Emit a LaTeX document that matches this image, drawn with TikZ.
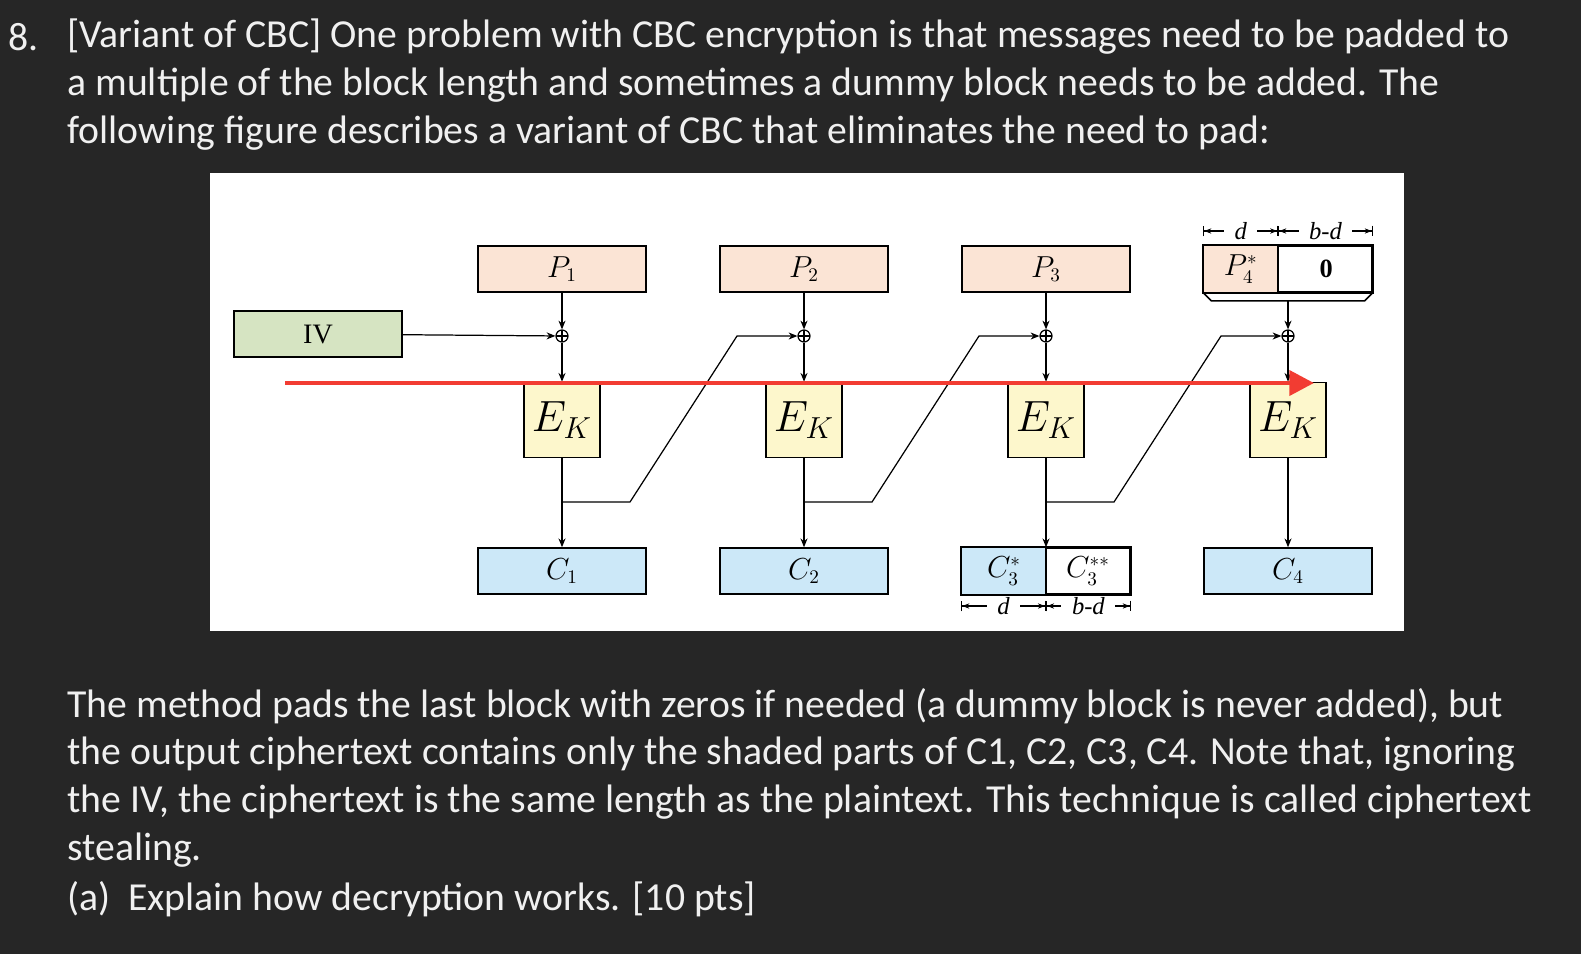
\documentclass[tikz,border=0pt]{standalone}
\usepackage{fontspec}
\setmainfont{Carlito}
\newfontfamily\serifx{Liberation Serif}
\usetikzlibrary{arrows.meta}
\definecolor{bg}{HTML}{262626}
\definecolor{pfill}{HTML}{FBE4D5}
\definecolor{cfill}{HTML}{CCE8F8}
\definecolor{efill}{HTML}{FDF7CC}
\definecolor{ivfill}{HTML}{D6E4C2}
\definecolor{redx}{HTML}{F23C32}
\begin{document}
\begin{tikzpicture}[x=0.02cm,y=-0.02cm,
  txt/.style={anchor=west,text=white!94!black,font=\fontsize{22.6}{26}\selectfont,inner sep=0},
  blk/.style={draw,line width=0.9pt,minimum width=3.36cm,minimum height=0.92cm,inner sep=0,font=\serifx\fontsize{16}{18}\selectfont},
  ek/.style={draw,line width=0.9pt,fill=efill,minimum width=1.52cm,minimum height=1.5cm,inner sep=0,font=\serifx\fontsize{24}{26}\selectfont},
  xo/.style={circle,draw,line width=0.7pt,minimum size=0.24cm,inner sep=0,path picture={\draw[line width=0.6pt] (path picture bounding box.north)--(path picture bounding box.south) (path picture bounding box.west)--(path picture bounding box.east);}},
  ar/.style={-{Stealth[length=5pt,width=4pt]},line width=0.7pt},
  ln/.style={line width=0.6pt},
  dm/.style={ln,{Bar[width=6pt]Stealth[length=4pt,width=3pt]}-{Stealth[length=4pt,width=3pt]Bar[width=6pt]}},
  dim/.style={font=\serifx\itshape\fontsize{14}{16}\selectfont,inner sep=0,fill=white,inner xsep=6pt}]
\fill[bg] (0,0) rectangle (1581,954);
\useasboundingbox (0,0) rectangle (1581,954);
\node[txt] (n8) at (8,37) {8.};
\node[txt] (l1) at (67,37) {[Variant of CBC] One problem with CBC encryption is that messages need to be padded to};
\node[txt] (l2) at (67,85) {a multiple of the block length and sometimes a dummy block needs to be added. The};
\node[txt] (l3) at (67,133) {following figure describes a variant of CBC that eliminates the need to pad:};
\fill[white] (210,173) rectangle (1404,631);
% top blocks
\node[blk,fill=pfill] (p1) at (562,269) {$P_1$};
\node[blk,fill=pfill] (p2) at (804,269) {$P_2$};
\node[blk,fill=pfill] (p3) at (1046,269) {$P_3$};
\node[blk] (p4) at (1288,269) {};
\fill[pfill] (p4.north west) rectangle ([xshift=1.5cm]p4.south west);
\draw[line width=0.9pt] ([xshift=1.5cm]p4.north west)--([xshift=1.5cm]p4.south west);
\draw[line width=0.9pt] (p4.north west) rectangle (p4.south east);
\node[font=\serifx\fontsize{16}{18}\selectfont] (p4s) at ([xshift=0.75cm]p4.west) {$P_4^*$};
\node[font=\serifx\bfseries\fontsize{15}{18}\selectfont] (z) at ([xshift=-0.93cm]p4.east) {0};
\draw[line width=0.9pt] (p4.south west)--([xshift=0.16cm,yshift=-0.16cm]p4.south west)--([xshift=-0.16cm,yshift=-0.16cm]p4.south east)--(p4.south east);
\coordinate (p4b) at ([yshift=-0.16cm]p4.south);
\node[blk,fill=ivfill] (iv) at (318,334) {IV};
\foreach \i/\x in {1/562,2/804,3/1046,4/1288}{
  \node[xo] (x\i) at (\x,336) {};
  \node[ek] (e\i) at (\x,420) {$E_K$};
  \coordinate (b\i) at (\x,502);
}
\node[blk,fill=cfill] (c1) at (562,571) {$C_1$};
\node[blk,fill=cfill] (c2) at (804,571) {$C_2$};
\node[blk] (c3) at (1046,571) {};
\node[blk,fill=cfill] (c4) at (1288,571) {$C_4$};
\fill[cfill] (c3.north west) rectangle (c3.south);
\draw[line width=0.9pt] (c3.north)--(c3.south);
\draw[line width=0.9pt] (c3.north west) rectangle (c3.south east);
\node[font=\serifx\fontsize{16}{18}\selectfont] (c3a) at ([xshift=-0.84cm]c3.center) {$C_3^*$};
\node[font=\serifx\fontsize{16}{18}\selectfont] (c3b) at ([xshift=0.84cm]c3.center) {$C_3^{**}$};
% connectors
\draw[ar] (p1)--(x1); \draw[ar] (p2)--(x2); \draw[ar] (p3)--(x3); \draw[ar] (p4b)--(x4);
\draw[ar] (iv)--(x1);
\foreach \i in {1,2,3,4}{ \draw[ar] (x\i)--(e\i.north); }
\draw[ar] (e1)--(c1); \draw[ar] (e2)--(c2); \draw[ar] (e3)--(c3.north); \draw[ar] (e4)--(c4);
\draw[ar] (b1)--++(68,0)--(737,336)--(x2);
\draw[ar] (b2)--++(68,0)--(979,336)--(x3);
\draw[ar] (b3)--++(68,0)--(1221,336)--(x4);
% dims
\draw[dm] (p4.west|-0,231)--node[dim]{d}([xshift=1.5cm]p4.west|-0,231);
\draw[dm] ([xshift=1.5cm]p4.west|-0,231)--node[dim]{b-d}(p4.east|-0,231);
\draw[dm] (c3.west|-0,606)--node[dim]{d}(c3.center|-0,606);
\draw[dm] (c3.center|-0,606)--node[dim]{b-d}(c3.east|-0,606);
% red arrow
\coordinate (rs) at (285,383);
\coordinate (re) at (1314,383);
\draw[redx,line width=2.8pt,-{Triangle[length=14pt,width=14pt]}] (rs)--(re);
% bottom text
\node[txt] (m1) at (67,706) {The method pads the last block with zeros if needed (a dummy block is never added), but};
\node[txt] (m2) at (67,754) {the output ciphertext contains only the shaded parts of C1, C2, C3, C4. Note that, ignoring};
\node[txt] (m3) at (67,802) {the IV, the ciphertext is the same length as the plaintext. This technique is called ciphertext};
\node[txt] (m4) at (67,850) {stealing.};
\node[txt] (m5) at (67,899) {(a)\hspace{0.45em}Explain how decryption works. [10 pts]};
\end{tikzpicture}
\end{document}
